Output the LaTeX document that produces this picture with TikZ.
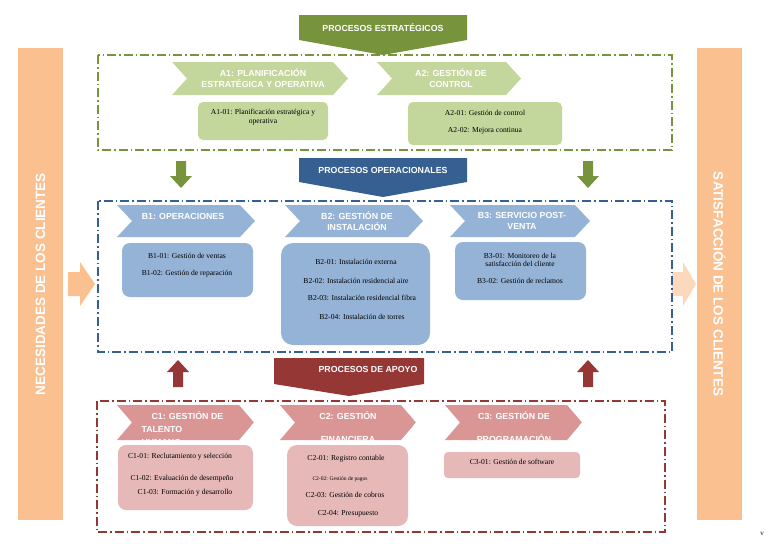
\documentclass[tikz,border=0pt]{standalone}
\usepackage{fontspec}
\setmainfont{Liberation Serif}
\newfontfamily\hsans{Liberation Sans}
\definecolor{gdark}{HTML}{77933C}
\definecolor{glight}{HTML}{C3D69B}
\definecolor{bdark}{HTML}{376092}
\definecolor{blight}{HTML}{95B3D7}
\definecolor{rdark}{HTML}{953735}
\definecolor{rmid}{HTML}{D99694}
\definecolor{rlight}{HTML}{E6B9B8}
\definecolor{peach}{HTML}{FAC090}
\newcommand{\mychev}[5]{\fill[#5] (#1,#2) -- (#3-15,#2) -- (#3,{(#2+#4)/2}) -- (#3-15,#4) -- (#1,#4) -- (#1+15,{(#2+#4)/2}) -- cycle;}
\newcommand{\mybanner}[6]{\fill[#6] (#1,#2) -- (#3,#2) -- (#3,#4) -- ({(#1+#3)/2},#5) -- (#1,#4) -- cycle;}
\newcommand{\mydown}[4]{\fill[#4] (#1-5,#2) -- (#1+5,#2) -- (#1+5,#3-12) -- (#1+11,#3-12) -- (#1,#3) -- (#1-11,#3-12) -- (#1-5,#3-12) -- cycle;}
\newcommand{\myup}[4]{\fill[#4] (#1-5,#3) -- (#1+5,#3) -- (#1+5,#2+12) -- (#1+11,#2+12) -- (#1,#2) -- (#1-11,#2+12) -- (#1-5,#2+12) -- cycle;}
\tikzset{
  head/.style={font=\hsans\bfseries\fontsize{8.8}{11}\selectfont, text=white, align=center},
  item/.style={font=\fontsize{7.6}{8.5}\selectfont, align=center},
  frame/.style={line width=1.3pt, dash pattern=on 9pt off 3pt on 1.5pt off 3pt},
}
\begin{document}
\begin{tikzpicture}[x=1pt,y=-1pt]
\useasboundingbox (0,0) rectangle (768,544);
% side bars
\fill[peach] (18,48) rectangle (63,520);
\node[head, font=\hsans\bfseries\fontsize{13.5}{15}\selectfont, rotate=90] (nec) at (40.5,284) {NECESIDADES DE LOS CLIENTES};
\fill[peach] (697,48) rectangle (742,520);
\node[head, font=\hsans\bfseries\fontsize{13.5}{15}\selectfont, rotate=-90] (sat) at (719.5,284) {SATISFACCIÓN DE LOS CLIENTES};
\fill[peach] (68,272) -- (80,272) -- (80,262) -- (95,284) -- (80,306) -- (80,296) -- (68,296) -- cycle;
\fill[peach!60] (672,272) -- (683,272) -- (683,262) -- (696,284) -- (683,306) -- (683,296) -- (672,296) -- cycle;
% strategic
\draw[frame, gdark] (98,55) rectangle (672,150);
\mybanner{299}{15}{467}{40}{55}{gdark}
\node[head] (pe) at (383,28) {PROCESOS ESTRATÉGICOS};
\mychev{172}{62}{348}{95}{glight}
\node[head] (a1) at (263,78) {A1: PLANIFICACIÓN\\ESTRATÉGICA Y OPERATIVA};
\mychev{377}{62}{521}{95}{glight}
\node[head] (a2) at (451,78) {A2: GESTIÓN DE\\CONTROL};
\fill[glight, rounded corners=5pt] (198,102) rectangle (328,140);
\node[item] (a101) at (263,117) {A1-01: Planificación estratégica y\\operativa};
\fill[glight, rounded corners=5pt] (408,102) rectangle (562,145);
\node[item] (a201) at (485,113) {A2-01: Gestión de control};
\node[item] (a202) at (485,131) {A2-02: Mejora continua};
\mydown{181}{161}{188}{gdark}
\mydown{588}{161}{188}{gdark}
% operational
\draw[frame, bdark] (98,201) rectangle (672,352);
\mybanner{299}{158}{467}{182}{197}{bdark}
\node[head] (po) at (383,170) {PROCESOS OPERACIONALES};
\mychev{117}{205}{255}{237}{blight}
\node[head] (b1) at (183,216) {B1: OPERACIONES};
\mychev{285}{205}{423}{237}{blight}
\node[head] (b2) at (357,221) {B2: GESTIÓN DE\\INSTALACIÓN};
\mychev{450}{205}{590}{237}{blight}
\node[head] (b3) at (522,221) {B3: SERVICIO POST-\\VENTA};
\fill[blight, rounded corners=8pt] (122,243) rectangle (253,297);
\node[item] (b101) at (187,256) {B1-01: Gestión de ventas};
\node[item] (b102) at (187,274) {B1-02: Gestión de reparación};
\fill[blight, rounded corners=12pt] (281,243) rectangle (430,345);
\node[item] (b201) at (356,262) {B2-01: Instalación externa};
\node[item] (b202) at (356,281) {B2-02: Instalación residencial aire};
\node[item] (b203) at (362,298) {B2-03: Instalación residencial fibra};
\node[item] (b204) at (362,317) {B2-04: Instalación de torres};
\fill[blight, rounded corners=8pt] (455,242) rectangle (586,300);
\node[item] (b301) at (520,260) {B3-01: Monitoreo de la\\satisfacción del cliente};
\node[item] (b302) at (520,281) {B3-02: Gestión de reclamos};
% support
\myup{178}{360}{387}{rdark}
\myup{588}{360}{387}{rdark}
\draw[frame, rdark] (97,401) rectangle (665,532);
\mybanner{274}{358}{424}{384}{396}{rdark}
\node[head] (pa) at (368,369) {PROCESOS DE APOYO};
\begin{scope}
\clip (117,405) -- (240,405) -- (254,422) -- (240,440) -- (117,440) -- (131,422) -- cycle;
\mychev{117}{405}{254}{440}{rmid}
\node[head, align=left, anchor=north west, font=\hsans\bfseries\fontsize{8.8}{13}\selectfont] (c1) at (138,408) {\hspace*{10pt}C1: GESTIÓN DE\\TALENTO\\HUMANO};
\end{scope}
\begin{scope}
\clip (280,405) -- (402,405) -- (416,422) -- (402,440) -- (280,440) -- (294,422) -- cycle;
\mychev{280}{405}{416}{440}{rmid}
\node[head, anchor=north, font=\hsans\bfseries\fontsize{8.8}{23}\selectfont] (c2) at (348,408) {C2: GESTIÓN\\FINANCIERA};
\end{scope}
\begin{scope}
\clip (445,405) -- (568,405) -- (582,422) -- (568,440) -- (445,440) -- (459,422) -- cycle;
\mychev{445}{405}{582}{440}{rmid}
\node[head, anchor=north, font=\hsans\bfseries\fontsize{8.8}{23}\selectfont] (c3) at (514,408) {C3: GESTIÓN DE\\PROGRAMACIÓN};
\end{scope}
\fill[rlight, rounded corners=8pt] (118,445) rectangle (253,510);
\node[item] (c101) at (180,457) {C1-01: Reclutamiento y selección};
\node[item] (c102) at (182,479) {C1-02: Evaluación de desempeño};
\node[item] (c103) at (185,493) {C1-03: Formación y desarrollo};
\fill[rlight, rounded corners=10pt] (287,445) rectangle (408,526);
\node[item] (c201) at (346,459) {C2-01: Registro contable};
\node[item, font=\fontsize{5.5}{6}\selectfont] (c202) at (340,479) {C2-02: Gestión de pagos};
\node[item] (c203) at (345,495) {C2-03: Gestión de cobros};
\node[item] (c204) at (348,514) {C2-04: Presupuesto};
\fill[rlight, rounded corners=4pt] (444,452) rectangle (580,478);
\node[item] (c301) at (512,462) {C3-01: Gestión de software};
\node[font=\fontsize{7}{8}\selectfont] (v) at (762,534) {v};
\end{tikzpicture}
\end{document}
